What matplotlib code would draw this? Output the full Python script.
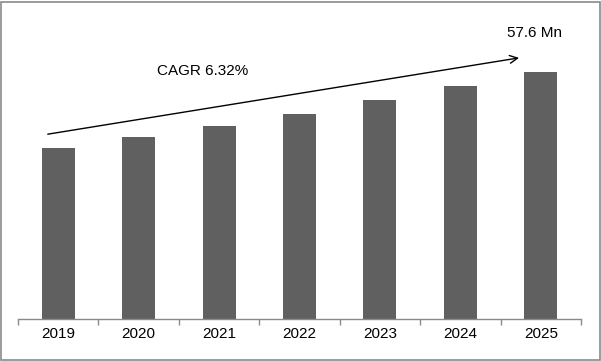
import matplotlib
matplotlib.use("Agg")
import matplotlib.pyplot as plt
from matplotlib.patches import Rectangle

years = ["2019", "2020", "2021", "2022", "2023", "2024", "2025"]
values = [39.9, 42.4, 45.0, 47.8, 51.1, 54.3, 57.6]
cagr_label = "CAGR 6.32%"
end_label = "57.6 Mn"

plt.rcParams['font.family'] = ['Liberation Sans', 'DejaVu Sans']

W, H = 601, 361
fig = plt.figure(figsize=(W / 100, H / 100), dpi=100)
ax = fig.add_axes([18 / W, (H - 319) / H, (581 - 18) / W, (319 - 10) / H])

x = list(range(len(years)))
ax.bar(x, values, width=0.41, color="#606060", zorder=2)

ax.set_xlim(-0.5, len(years) - 0.5)
ax.set_ylim(0, 72.06)
for s in ["top", "left", "right"]:
    ax.spines[s].set_visible(False)
ax.spines["bottom"].set_color("#8a8a8a")
ax.spines["bottom"].set_linewidth(1.0)
ax.set_yticks([])
ax.set_xticks(x)
ax.set_xticklabels(years, fontsize=11, color="#000000")
ax.tick_params(axis="x", which="major", length=0, pad=6)
ax.set_xticks([i - 0.5 for i in range(len(years) + 1)], minor=True)
ax.tick_params(axis="x", which="minor", length=4, color="#8a8a8a", width=1.0, direction="out")

ax.annotate("", xy=(5.73, 60.9), xytext=(-0.13, 43.1),
            arrowprops=dict(arrowstyle="->", color="black", lw=1.0,
                            mutation_scale=14, shrinkA=0, shrinkB=0))
ax.text(1.8, 57.8, cagr_label, fontsize=11, ha="center", va="center")
ax.text(5.92, 66.8, end_label, fontsize=11, ha="center", va="center")

fig.patches.append(Rectangle((1 / W, 1.5 / H), (W - 2.5) / W, (H - 3) / H,
                             transform=fig.transFigure, fill=False,
                             edgecolor="#8a8a8a", linewidth=1.2))

fig.savefig("out.png", dpi=100)
